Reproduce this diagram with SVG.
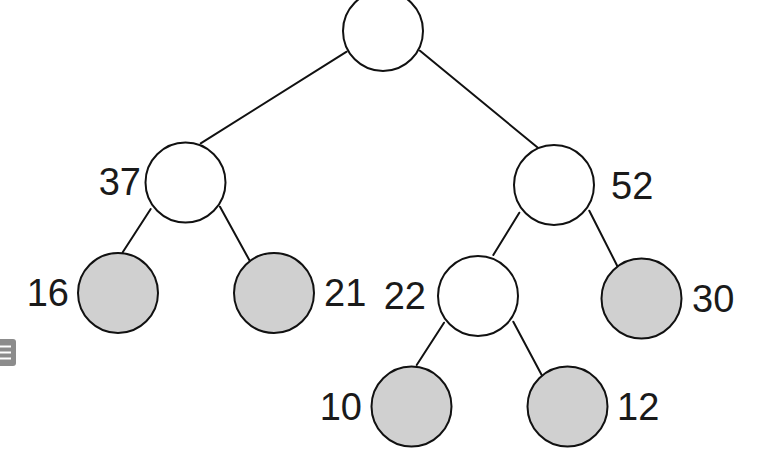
<svg xmlns="http://www.w3.org/2000/svg" width="766" height="473" viewBox="0 0 766 473">
<style>
.edge{stroke:#111;stroke-width:2;fill:none;stroke-linecap:round}
.node{stroke:#111;stroke-width:2}
.inner{fill:#fff}
.leaf{fill:#d0d0d0}
.lbl{font-family:"Liberation Sans",Arial,sans-serif;font-size:38px;fill:#1a1a1a}
.l{text-anchor:end}
</style>
<rect width="766" height="473" fill="#fff"/>
<g id="connectors">
<line class="edge" x1="346.7" y1="51.7" x2="200.7" y2="143.3"/>
<line class="edge" x1="420" y1="50.7" x2="537.3" y2="147.3"/>
<line class="edge" x1="150.7" y1="209" x2="122.7" y2="252.3"/>
<line class="edge" x1="220" y1="206.7" x2="249.3" y2="260"/>
<line class="edge" x1="519.3" y1="212.7" x2="493.3" y2="255"/>
<line class="edge" x1="589.3" y1="210.7" x2="617.3" y2="266"/>
<line class="edge" x1="444" y1="322.7" x2="416.7" y2="365"/>
<line class="edge" x1="513.3" y1="321.7" x2="541.7" y2="375"/>
</g>
<g id="root"><circle class="node inner" cx="383" cy="31" r="40"/></g>
<g id="n37"><circle class="node inner" cx="185.5" cy="182.5" r="40"/><text class="lbl l" x="141" y="195">37</text></g>
<g id="n52"><circle class="node inner" cx="554" cy="185" r="40"/><text class="lbl" x="611" y="199">52</text></g>
<g id="n16"><circle class="node leaf" cx="118" cy="293" r="40"/><text class="lbl l" x="69" y="306">16</text></g>
<g id="n21"><circle class="node leaf" cx="274" cy="293" r="40"/><text class="lbl" x="324" y="306">21</text></g>
<g id="n22"><circle class="node inner" cx="478" cy="296" r="40"/><text class="lbl l" x="426" y="309">22</text></g>
<g id="n30"><circle class="node leaf" cx="641.5" cy="298.5" r="40"/><text class="lbl" x="692" y="312">30</text></g>
<g id="n10"><circle class="node leaf" cx="411.5" cy="406.5" r="40"/><text class="lbl l" x="362" y="420">10</text></g>
<g id="n12"><circle class="node leaf" cx="567.5" cy="406.5" r="40"/><text class="lbl" x="617" y="420">12</text></g>
<g id="menu-icon">
<rect x="-4" y="339" width="20" height="27" rx="3" fill="#8c8c8c"/>
<line x1="0" y1="346.5" x2="11" y2="346.5" stroke="#fff" stroke-width="2"/>
<line x1="0" y1="352.5" x2="11" y2="352.5" stroke="#fff" stroke-width="2"/>
<line x1="0" y1="358.5" x2="11" y2="358.5" stroke="#fff" stroke-width="2"/>
</g>
</svg>
